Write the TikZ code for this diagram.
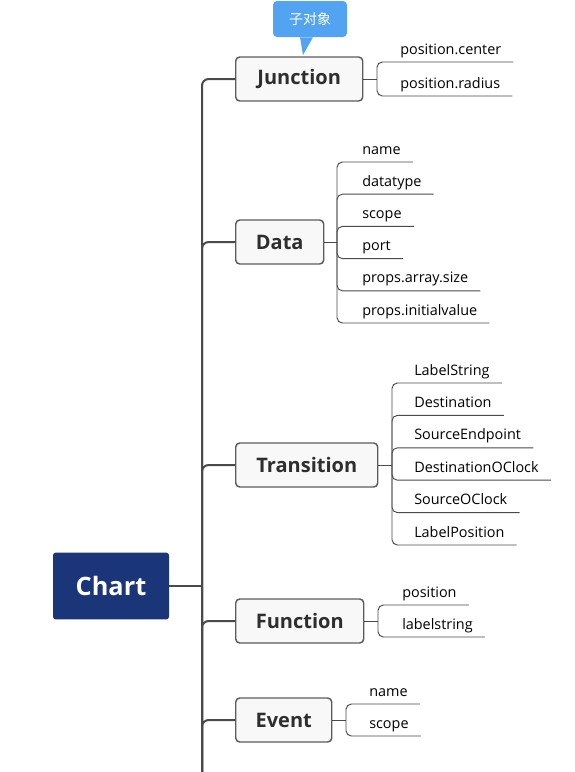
\documentclass[tikz,border=0pt]{standalone}
\usepackage{fontspec}
\setmainfont{Open Sans}
\newfontfamily\cjk{Noto Sans CJK SC}
\definecolor{navy}{HTML}{1B3678}
\definecolor{tagblue}{HTML}{52A3F2}
\definecolor{linegray}{HTML}{4A4A4A}
\definecolor{boxfill}{HTML}{F8F8F8}
\definecolor{boxline}{HTML}{5C5C5C}
\tikzset{
	rootbox/.style={fill=navy, rounded corners=2pt, text=white, font=\fontsize{19}{22}\selectfont\bfseries,
		minimum width=87pt, minimum height=50pt, inner sep=0pt},
	topic/.style={draw=boxline, line width=1.1pt, fill=boxfill, rounded corners=3pt, text=black!82,
		font=\fontsize{15}{18}\selectfont\bfseries, minimum height=33pt, inner sep=0pt, anchor=west},
	leaf/.style={anchor=base west, inner sep=0pt, text=black, font=\fontsize{10.8}{12}\selectfont},
	trunk/.style={draw=linegray, line width=2.2pt},
	branch/.style={draw=linegray, line width=1.5pt, rounded corners=5pt},
	twig/.style={draw=linegray, line width=0.7pt, rounded corners=4pt},
}
\begin{document}
\begin{tikzpicture}[x=0.75pt, y=-0.75pt]
	\useasboundingbox (0,0) rectangle (575,772);
	% root and main topics
	\node[rootbox] (chart) at (111,586) {Chart};
	\node[topic, minimum width=95.25pt] (junction) at (235,79) {Junction};
	\node[topic, minimum width=66pt] (data) at (235,242) {Data};
	\node[topic, minimum width=106.5pt] (transition) at (235,465) {Transition};
	\node[topic, minimum width=96pt] (function) at (235,621) {Function};
	\node[topic, minimum width=72pt] (event) at (235,720) {Event};
	% trunk
	\coordinate (trunktop) at (202,84);
	\coordinate (trunkend) at (202,772);
	\coordinate (fork) at (202,586);
	\draw[trunk] (trunkend) -- (trunktop);
	\draw[trunk] (chart.east) -- (fork);
	\foreach \t in {junction,data,transition,function,event}
		\draw[branch] (trunkend) |- (\t.west);
	% callout
	\node[fill=tagblue, rounded corners=3pt, text=white, font=\cjk\fontsize{10.5}{12}\selectfont,
		minimum width=55.5pt, minimum height=27pt, inner sep=0pt] (tag) at (310,19) {子对象};
	\coordinate (tagtip) at (303,55);
	\fill[tagblue] ([xshift=-7.5pt]tag.south) -- (tagtip) -- ([xshift=2.25pt]tag.south) -- cycle;
	% junction leaves
	\coordinate (jb) at (377,79);
	\draw[twig] (junction.east) -- (jb);
	\foreach \t [count=\i] in {position.center,position.radius}{
		\node[leaf] (j\i) at (400,20+34*\i) {\t};
		\draw[twig] (jb) |- ([xshift=9pt,yshift=-6pt]j\i.base east);
	}
	% data leaves
	\coordinate (db) at (337,242);
	\draw[twig] (data.east) -- (db);
	\foreach \t [count=\i] in {name,datatype,scope,port,props.array.size,props.initialvalue}{
		\node[leaf] (d\i) at (362,121.8+32.2*\i) {\t};
		\draw[twig] (db) |- ([xshift=9pt,yshift=-6pt]d\i.base east);
	}
	% transition leaves
	\coordinate (tb) at (392,465);
	\draw[twig] (transition.east) -- (tb);
	\foreach \t [count=\i] in {LabelString,Destination,SourceEndpoint,DestinationOClock,SourceOClock,LabelPosition}{
		\node[leaf] (t\i) at (414,342.6+32.4*\i) {\t};
		\draw[twig] (tb) |- ([xshift=9pt,yshift=-6pt]t\i.base east);
	}
	% function leaves
	\coordinate (fb) at (378,621);
	\draw[twig] (function.east) -- (fb);
	\foreach \t [count=\i] in {position,labelstring}{
		\node[leaf] (f\i) at (402,565+32*\i) {\t};
		\draw[twig] (fb) |- ([xshift=9pt,yshift=-6pt]f\i.base east);
	}
	% event leaves
	\coordinate (eb) at (346,720);
	\draw[twig] (event.east) -- (eb);
	\foreach \t [count=\i] in {name,scope}{
		\node[leaf] (e\i) at (369,664+32*\i) {\t};
		\draw[twig] (eb) |- ([xshift=9pt,yshift=-6pt]e\i.base east);
	}
\end{tikzpicture}
\end{document}
